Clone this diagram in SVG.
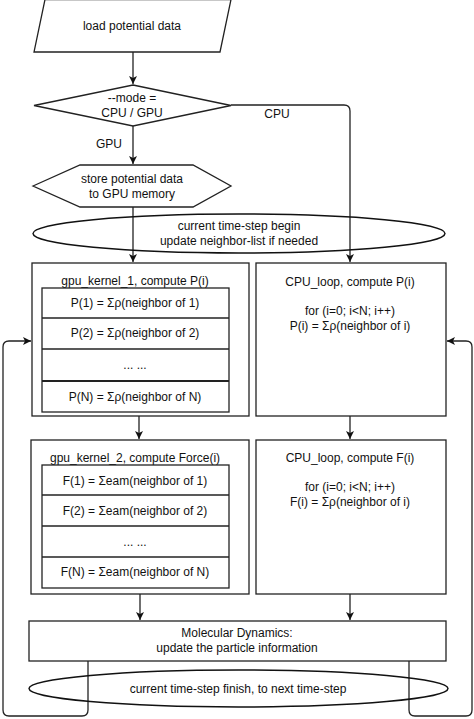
<svg xmlns="http://www.w3.org/2000/svg" width="474" height="719" viewBox="0 0 474 719">
<defs>
<marker id="ah" viewBox="0 0 10 10" refX="10" refY="5" markerWidth="8" markerHeight="8" markerUnits="userSpaceOnUse" orient="auto">
<path d="M0,0 L10,5 L0,10 L2.5,5 Z" fill="#111"/>
</marker>
<style>
.s{fill:#fff;stroke:#222;stroke-width:1.3}
.e{fill:none;stroke:#111;stroke-width:1.5}
.t{font-family:"Liberation Sans",Arial,sans-serif;font-size:12px;fill:#111;text-anchor:middle;dominant-baseline:central}
.c{fill:none;stroke:#222;stroke-width:1.3}
</style>
</defs>
<rect width="474" height="719" fill="#fff"/>
<g id="connectors">
<path class="c" d="M133,52 V84" marker-end="url(#ah)"/>
<path class="c" d="M231,105 H344 Q350,105 350,111 V262" marker-end="url(#ah)"/>
<path class="c" d="M133,126 V164" marker-end="url(#ah)"/>
<path class="c" d="M133,207 V262" marker-end="url(#ah)"/>
<path class="c" d="M139,416 V439" marker-end="url(#ah)"/>
<path class="c" d="M350,416 V439" marker-end="url(#ah)"/>
<path class="c" d="M140,594 V620" marker-end="url(#ah)"/>
<path class="c" d="M350,594 V620" marker-end="url(#ah)"/>
<path class="c" d="M88,661 V710 Q88,716 82,716 H9 Q3,716 3,710 V347 Q3,341 9,341 H31" marker-end="url(#ah)"/>
<path class="c" d="M409,661 V710 Q409,716 415,716 H466 Q472,716 472,710 V347 Q472,341 466,341 H447" marker-end="url(#ah)"/>
</g>
<g id="labels">
<text class="t" x="277" y="114">CPU</text>
<text class="t" x="109" y="144">GPU</text>
</g>
<g id="load">
<polygon class="s" points="45,-0.5 231,-0.5 220,52 34,52"/>
<text class="t" x="132" y="26">load potential data</text>
</g>
<g id="mode">
<polygon class="s" points="133,85 231,105.5 133,126 34,105.5"/>
<text class="t" x="132" y="98">--mode =</text>
<text class="t" x="132" y="113">CPU / GPU</text>
</g>
<g id="store">
<polygon class="s" points="33,186 80,165 193,165 231,186 193,207 80,207"/>
<text class="t" x="132" y="179">store potential data</text>
<text class="t" x="132" y="194">to GPU memory</text>
</g>
<g id="begin">
<ellipse class="e" cx="239" cy="233.5" rx="206" ry="19.5"/>
<text class="t" x="239" y="226">current time-step begin</text>
<text class="t" x="239" y="241">update neighbor-list if needed</text>
</g>
<g id="gpu1">
<rect class="s" x="32" y="263" width="217" height="153"/>
<text class="t" x="135" y="281">gpu_kernel_1, compute P(i)</text>
<rect class="s" x="42" y="288" width="187" height="124"/>
<line class="c" x1="42" y1="318" x2="229" y2="318"/>
<line class="c" x1="42" y1="349" x2="229" y2="349"/>
<line class="c" x1="42" y1="381" x2="229" y2="381" style="stroke-width:2"/>
<text class="t" x="135" y="303">P(1) = Σρ(neighbor of 1)</text>
<text class="t" x="135" y="333">P(2) = Σρ(neighbor of 2)</text>
<text class="t" x="135" y="365">... ...</text>
<text class="t" x="135" y="397">P(N) = Σρ(neighbor of N)</text>
</g>
<g id="cpu1">
<rect class="s" x="256" y="263" width="190" height="153"/>
<text class="t" x="350" y="282">CPU_loop, compute P(i)</text>
<text class="t" x="350" y="311">for (i=0; i&lt;N; i++)</text>
<text class="t" x="350" y="326">P(i) = Σρ(neighbor of i)</text>
</g>
<g id="gpu2">
<rect class="s" x="31" y="440" width="218" height="154"/>
<text class="t" x="135" y="458">gpu_kernel_2, compute Force(i)</text>
<rect class="s" x="42" y="465" width="187" height="123"/>
<line class="c" x1="42" y1="495" x2="229" y2="495"/>
<line class="c" x1="42" y1="526" x2="229" y2="526"/>
<line class="c" x1="42" y1="557" x2="229" y2="557"/>
<text class="t" x="135" y="481">F(1) = Σeam(neighbor of 1)</text>
<text class="t" x="135" y="511">F(2) = Σeam(neighbor of 2)</text>
<text class="t" x="135" y="542">... ...</text>
<text class="t" x="135" y="572">F(N) = Σeam(neighbor of N)</text>
</g>
<g id="cpu2">
<rect class="s" x="256" y="440" width="190" height="154"/>
<text class="t" x="350" y="458">CPU_loop, compute F(i)</text>
<text class="t" x="350" y="487">for (i=0; i&lt;N; i++)</text>
<text class="t" x="350" y="502">F(i) = Σρ(neighbor of i)</text>
</g>
<g id="md">
<rect class="s" x="29" y="621" width="417" height="40"/>
<text class="t" x="237" y="633">Molecular Dynamics:</text>
<text class="t" x="237" y="648">update the particle information</text>
</g>
<g id="finish">
<ellipse class="e" cx="238.5" cy="688.5" rx="209.5" ry="18.5"/>
<text class="t" x="238" y="689">current time-step finish, to next time-step</text>
</g>
</svg>
